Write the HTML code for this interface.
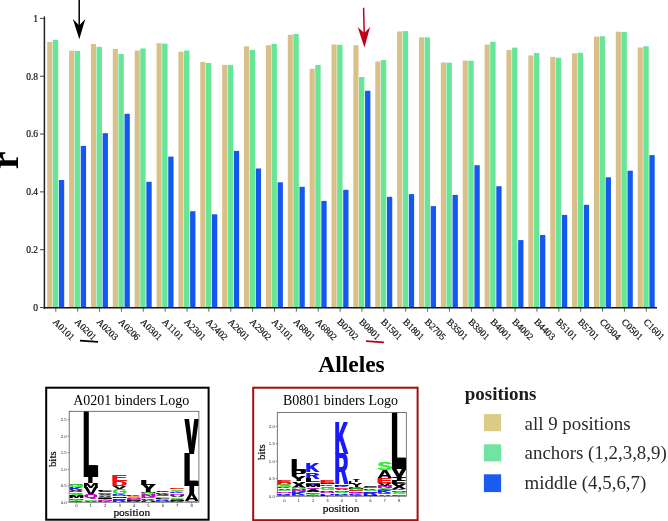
<!DOCTYPE html>
<html><head><meta charset="utf-8"><title>Allele correlation figure</title>
<style>
html,body{margin:0;padding:0;background:#fff;width:668px;height:521px;overflow:hidden}
svg{display:block;font-family:"Liberation Serif","Times New Roman",serif}
</style></head><body>
<svg width="668" height="521" viewBox="0 0 668 521">
<rect x="0" y="0" width="668" height="521" fill="#ffffff"/>
<rect x="47.20" y="41.90" width="5.1" height="265.70" fill="#d8c088"/>
<rect x="52.80" y="39.80" width="5.4" height="267.80" fill="#68e698"/>
<rect x="58.90" y="180.00" width="5.3" height="127.60" fill="#1458f0"/>
<line x1="55.80" y1="308" x2="55.80" y2="311.7" stroke="#555" stroke-width="0.9"/>
<text x="52.50" y="322.60" transform="rotate(45 52.50 322.60)" font-size="9.5" fill="#111" stroke="#111" stroke-width="0.22">A0101</text>
<rect x="69.07" y="50.60" width="5.1" height="257.00" fill="#d8c088"/>
<rect x="74.67" y="50.90" width="5.4" height="256.70" fill="#68e698"/>
<rect x="80.77" y="145.90" width="5.3" height="161.70" fill="#1458f0"/>
<line x1="77.67" y1="308" x2="77.67" y2="311.7" stroke="#555" stroke-width="0.9"/>
<text x="74.37" y="322.60" transform="rotate(45 74.37 322.60)" font-size="9.5" fill="#111" stroke="#111" stroke-width="0.22">A0201</text>
<rect x="90.94" y="44.00" width="5.1" height="263.60" fill="#d8c088"/>
<rect x="96.54" y="46.80" width="5.4" height="260.80" fill="#68e698"/>
<rect x="102.64" y="133.20" width="5.3" height="174.40" fill="#1458f0"/>
<line x1="99.54" y1="308" x2="99.54" y2="311.7" stroke="#555" stroke-width="0.9"/>
<text x="96.24" y="322.60" transform="rotate(45 96.24 322.60)" font-size="9.5" fill="#111" stroke="#111" stroke-width="0.22">A0203</text>
<rect x="112.81" y="49.00" width="5.1" height="258.60" fill="#d8c088"/>
<rect x="118.41" y="54.00" width="5.4" height="253.60" fill="#68e698"/>
<rect x="124.51" y="113.80" width="5.3" height="193.80" fill="#1458f0"/>
<line x1="121.41" y1="308" x2="121.41" y2="311.7" stroke="#555" stroke-width="0.9"/>
<text x="118.11" y="322.60" transform="rotate(45 118.11 322.60)" font-size="9.5" fill="#111" stroke="#111" stroke-width="0.22">A0206</text>
<rect x="134.68" y="50.50" width="5.1" height="257.10" fill="#d8c088"/>
<rect x="140.28" y="48.50" width="5.4" height="259.10" fill="#68e698"/>
<rect x="146.38" y="181.80" width="5.3" height="125.80" fill="#1458f0"/>
<line x1="143.28" y1="308" x2="143.28" y2="311.7" stroke="#555" stroke-width="0.9"/>
<text x="139.98" y="322.60" transform="rotate(45 139.98 322.60)" font-size="9.5" fill="#111" stroke="#111" stroke-width="0.22">A0301</text>
<rect x="156.55" y="43.20" width="5.1" height="264.40" fill="#d8c088"/>
<rect x="162.15" y="43.70" width="5.4" height="263.90" fill="#68e698"/>
<rect x="168.25" y="156.60" width="5.3" height="151.00" fill="#1458f0"/>
<line x1="165.15" y1="308" x2="165.15" y2="311.7" stroke="#555" stroke-width="0.9"/>
<text x="161.85" y="322.60" transform="rotate(45 161.85 322.60)" font-size="9.5" fill="#111" stroke="#111" stroke-width="0.22">A1101</text>
<rect x="178.42" y="51.70" width="5.1" height="255.90" fill="#d8c088"/>
<rect x="184.02" y="50.50" width="5.4" height="257.10" fill="#68e698"/>
<rect x="190.12" y="211.20" width="5.3" height="96.40" fill="#1458f0"/>
<line x1="187.02" y1="308" x2="187.02" y2="311.7" stroke="#555" stroke-width="0.9"/>
<text x="183.72" y="322.60" transform="rotate(45 183.72 322.60)" font-size="9.5" fill="#111" stroke="#111" stroke-width="0.22">A2301</text>
<rect x="200.29" y="61.90" width="5.1" height="245.70" fill="#d8c088"/>
<rect x="205.89" y="63.00" width="5.4" height="244.60" fill="#68e698"/>
<rect x="211.99" y="214.30" width="5.3" height="93.30" fill="#1458f0"/>
<line x1="208.89" y1="308" x2="208.89" y2="311.7" stroke="#555" stroke-width="0.9"/>
<text x="205.59" y="322.60" transform="rotate(45 205.59 322.60)" font-size="9.5" fill="#111" stroke="#111" stroke-width="0.22">A2402</text>
<rect x="222.16" y="64.90" width="5.1" height="242.70" fill="#d8c088"/>
<rect x="227.76" y="64.90" width="5.4" height="242.70" fill="#68e698"/>
<rect x="233.86" y="150.90" width="5.3" height="156.70" fill="#1458f0"/>
<line x1="230.76" y1="308" x2="230.76" y2="311.7" stroke="#555" stroke-width="0.9"/>
<text x="227.46" y="322.60" transform="rotate(45 227.46 322.60)" font-size="9.5" fill="#111" stroke="#111" stroke-width="0.22">A2601</text>
<rect x="244.03" y="46.30" width="5.1" height="261.30" fill="#d8c088"/>
<rect x="249.63" y="49.90" width="5.4" height="257.70" fill="#68e698"/>
<rect x="255.73" y="168.50" width="5.3" height="139.10" fill="#1458f0"/>
<line x1="252.63" y1="308" x2="252.63" y2="311.7" stroke="#555" stroke-width="0.9"/>
<text x="249.33" y="322.60" transform="rotate(45 249.33 322.60)" font-size="9.5" fill="#111" stroke="#111" stroke-width="0.22">A2902</text>
<rect x="265.90" y="45.20" width="5.1" height="262.40" fill="#d8c088"/>
<rect x="271.50" y="43.90" width="5.4" height="263.70" fill="#68e698"/>
<rect x="277.60" y="182.30" width="5.3" height="125.30" fill="#1458f0"/>
<line x1="274.50" y1="308" x2="274.50" y2="311.7" stroke="#555" stroke-width="0.9"/>
<text x="271.20" y="322.60" transform="rotate(45 271.20 322.60)" font-size="9.5" fill="#111" stroke="#111" stroke-width="0.22">A3101</text>
<rect x="287.77" y="34.80" width="5.1" height="272.80" fill="#d8c088"/>
<rect x="293.37" y="34.00" width="5.4" height="273.60" fill="#68e698"/>
<rect x="299.47" y="186.80" width="5.3" height="120.80" fill="#1458f0"/>
<line x1="296.37" y1="308" x2="296.37" y2="311.7" stroke="#555" stroke-width="0.9"/>
<text x="293.07" y="322.60" transform="rotate(45 293.07 322.60)" font-size="9.5" fill="#111" stroke="#111" stroke-width="0.22">A6801</text>
<rect x="309.64" y="68.80" width="5.1" height="238.80" fill="#d8c088"/>
<rect x="315.24" y="65.00" width="5.4" height="242.60" fill="#68e698"/>
<rect x="321.34" y="200.90" width="5.3" height="106.70" fill="#1458f0"/>
<line x1="318.24" y1="308" x2="318.24" y2="311.7" stroke="#555" stroke-width="0.9"/>
<text x="314.94" y="322.60" transform="rotate(45 314.94 322.60)" font-size="9.5" fill="#111" stroke="#111" stroke-width="0.22">A6802</text>
<rect x="331.51" y="44.50" width="5.1" height="263.10" fill="#d8c088"/>
<rect x="337.11" y="44.80" width="5.4" height="262.80" fill="#68e698"/>
<rect x="343.21" y="189.80" width="5.3" height="117.80" fill="#1458f0"/>
<line x1="340.11" y1="308" x2="340.11" y2="311.7" stroke="#555" stroke-width="0.9"/>
<text x="336.81" y="322.60" transform="rotate(45 336.81 322.60)" font-size="9.5" fill="#111" stroke="#111" stroke-width="0.22">B0702</text>
<rect x="353.38" y="45.20" width="5.1" height="262.40" fill="#d8c088"/>
<rect x="358.98" y="77.00" width="5.4" height="230.60" fill="#68e698"/>
<rect x="365.08" y="90.80" width="5.3" height="216.80" fill="#1458f0"/>
<line x1="361.98" y1="308" x2="361.98" y2="311.7" stroke="#555" stroke-width="0.9"/>
<text x="358.68" y="322.60" transform="rotate(45 358.68 322.60)" font-size="9.5" fill="#111" stroke="#111" stroke-width="0.22">B0801</text>
<rect x="375.25" y="61.40" width="5.1" height="246.20" fill="#d8c088"/>
<rect x="380.85" y="60.00" width="5.4" height="247.60" fill="#68e698"/>
<rect x="386.95" y="196.80" width="5.3" height="110.80" fill="#1458f0"/>
<line x1="383.85" y1="308" x2="383.85" y2="311.7" stroke="#555" stroke-width="0.9"/>
<text x="380.55" y="322.60" transform="rotate(45 380.55 322.60)" font-size="9.5" fill="#111" stroke="#111" stroke-width="0.22">B1501</text>
<rect x="397.12" y="31.50" width="5.1" height="276.10" fill="#d8c088"/>
<rect x="402.72" y="31.10" width="5.4" height="276.50" fill="#68e698"/>
<rect x="408.82" y="194.10" width="5.3" height="113.50" fill="#1458f0"/>
<line x1="405.72" y1="308" x2="405.72" y2="311.7" stroke="#555" stroke-width="0.9"/>
<text x="402.42" y="322.60" transform="rotate(45 402.42 322.60)" font-size="9.5" fill="#111" stroke="#111" stroke-width="0.22">B1801</text>
<rect x="418.99" y="37.40" width="5.1" height="270.20" fill="#d8c088"/>
<rect x="424.59" y="37.40" width="5.4" height="270.20" fill="#68e698"/>
<rect x="430.69" y="206.10" width="5.3" height="101.50" fill="#1458f0"/>
<line x1="427.59" y1="308" x2="427.59" y2="311.7" stroke="#555" stroke-width="0.9"/>
<text x="424.29" y="322.60" transform="rotate(45 424.29 322.60)" font-size="9.5" fill="#111" stroke="#111" stroke-width="0.22">B2705</text>
<rect x="440.86" y="62.50" width="5.1" height="245.10" fill="#d8c088"/>
<rect x="446.46" y="62.70" width="5.4" height="244.90" fill="#68e698"/>
<rect x="452.56" y="194.90" width="5.3" height="112.70" fill="#1458f0"/>
<line x1="449.46" y1="308" x2="449.46" y2="311.7" stroke="#555" stroke-width="0.9"/>
<text x="446.16" y="322.60" transform="rotate(45 446.16 322.60)" font-size="9.5" fill="#111" stroke="#111" stroke-width="0.22">B3501</text>
<rect x="462.73" y="60.60" width="5.1" height="247.00" fill="#d8c088"/>
<rect x="468.33" y="60.80" width="5.4" height="246.80" fill="#68e698"/>
<rect x="474.43" y="165.20" width="5.3" height="142.40" fill="#1458f0"/>
<line x1="471.33" y1="308" x2="471.33" y2="311.7" stroke="#555" stroke-width="0.9"/>
<text x="468.03" y="322.60" transform="rotate(45 468.03 322.60)" font-size="9.5" fill="#111" stroke="#111" stroke-width="0.22">B3901</text>
<rect x="484.60" y="44.50" width="5.1" height="263.10" fill="#d8c088"/>
<rect x="490.20" y="41.80" width="5.4" height="265.80" fill="#68e698"/>
<rect x="496.30" y="186.20" width="5.3" height="121.40" fill="#1458f0"/>
<line x1="493.20" y1="308" x2="493.20" y2="311.7" stroke="#555" stroke-width="0.9"/>
<text x="489.90" y="322.60" transform="rotate(45 489.90 322.60)" font-size="9.5" fill="#111" stroke="#111" stroke-width="0.22">B4001</text>
<rect x="506.47" y="49.90" width="5.1" height="257.70" fill="#d8c088"/>
<rect x="512.07" y="47.60" width="5.4" height="260.00" fill="#68e698"/>
<rect x="518.17" y="240.10" width="5.3" height="67.50" fill="#1458f0"/>
<line x1="515.07" y1="308" x2="515.07" y2="311.7" stroke="#555" stroke-width="0.9"/>
<text x="511.77" y="322.60" transform="rotate(45 511.77 322.60)" font-size="9.5" fill="#111" stroke="#111" stroke-width="0.22">B4002</text>
<rect x="528.34" y="55.50" width="5.1" height="252.10" fill="#d8c088"/>
<rect x="533.94" y="53.00" width="5.4" height="254.60" fill="#68e698"/>
<rect x="540.04" y="235.00" width="5.3" height="72.60" fill="#1458f0"/>
<line x1="536.94" y1="308" x2="536.94" y2="311.7" stroke="#555" stroke-width="0.9"/>
<text x="533.64" y="322.60" transform="rotate(45 533.64 322.60)" font-size="9.5" fill="#111" stroke="#111" stroke-width="0.22">B4403</text>
<rect x="550.21" y="56.90" width="5.1" height="250.70" fill="#d8c088"/>
<rect x="555.81" y="57.70" width="5.4" height="249.90" fill="#68e698"/>
<rect x="561.91" y="214.90" width="5.3" height="92.70" fill="#1458f0"/>
<line x1="558.81" y1="308" x2="558.81" y2="311.7" stroke="#555" stroke-width="0.9"/>
<text x="555.51" y="322.60" transform="rotate(45 555.51 322.60)" font-size="9.5" fill="#111" stroke="#111" stroke-width="0.22">B5101</text>
<rect x="572.08" y="53.30" width="5.1" height="254.30" fill="#d8c088"/>
<rect x="577.68" y="52.80" width="5.4" height="254.80" fill="#68e698"/>
<rect x="583.78" y="204.80" width="5.3" height="102.80" fill="#1458f0"/>
<line x1="580.68" y1="308" x2="580.68" y2="311.7" stroke="#555" stroke-width="0.9"/>
<text x="577.38" y="322.60" transform="rotate(45 577.38 322.60)" font-size="9.5" fill="#111" stroke="#111" stroke-width="0.22">B5701</text>
<rect x="593.95" y="36.60" width="5.1" height="271.00" fill="#d8c088"/>
<rect x="599.55" y="36.20" width="5.4" height="271.40" fill="#68e698"/>
<rect x="605.65" y="177.30" width="5.3" height="130.30" fill="#1458f0"/>
<line x1="602.55" y1="308" x2="602.55" y2="311.7" stroke="#555" stroke-width="0.9"/>
<text x="599.25" y="322.60" transform="rotate(45 599.25 322.60)" font-size="9.5" fill="#111" stroke="#111" stroke-width="0.22">C0304</text>
<rect x="615.82" y="31.70" width="5.1" height="275.90" fill="#d8c088"/>
<rect x="621.42" y="32.00" width="5.4" height="275.60" fill="#68e698"/>
<rect x="627.52" y="170.70" width="5.3" height="136.90" fill="#1458f0"/>
<line x1="624.42" y1="308" x2="624.42" y2="311.7" stroke="#555" stroke-width="0.9"/>
<text x="621.12" y="322.60" transform="rotate(45 621.12 322.60)" font-size="9.5" fill="#111" stroke="#111" stroke-width="0.22">C0501</text>
<rect x="637.69" y="47.50" width="5.1" height="260.10" fill="#d8c088"/>
<rect x="643.29" y="46.20" width="5.4" height="261.40" fill="#68e698"/>
<rect x="649.39" y="155.10" width="5.3" height="152.50" fill="#1458f0"/>
<line x1="646.29" y1="308" x2="646.29" y2="311.7" stroke="#555" stroke-width="0.9"/>
<text x="642.99" y="322.60" transform="rotate(45 642.99 322.60)" font-size="9.5" fill="#111" stroke="#111" stroke-width="0.22">C1601</text>
<line x1="44.4" y1="16.9" x2="44.4" y2="308.4" stroke="#222" stroke-width="1.5" stroke-linecap="round"/>
<line x1="43.7" y1="307.8" x2="657" y2="307.8" stroke="#151515" stroke-width="1.6"/>
<line x1="40" y1="307.50" x2="44.4" y2="307.50" stroke="#444" stroke-width="1"/>
<text x="38" y="310.80" text-anchor="end" font-size="9.5" fill="#111" stroke="#111" stroke-width="0.2">0</text>
<line x1="40" y1="249.68" x2="44.4" y2="249.68" stroke="#444" stroke-width="1"/>
<text x="38" y="252.98" text-anchor="end" font-size="9.5" fill="#111" stroke="#111" stroke-width="0.2">0.2</text>
<line x1="40" y1="191.86" x2="44.4" y2="191.86" stroke="#444" stroke-width="1"/>
<text x="38" y="195.16" text-anchor="end" font-size="9.5" fill="#111" stroke="#111" stroke-width="0.2">0.4</text>
<line x1="40" y1="134.04" x2="44.4" y2="134.04" stroke="#444" stroke-width="1"/>
<text x="38" y="137.34" text-anchor="end" font-size="9.5" fill="#111" stroke="#111" stroke-width="0.2">0.6</text>
<line x1="40" y1="76.22" x2="44.4" y2="76.22" stroke="#444" stroke-width="1"/>
<text x="38" y="79.52" text-anchor="end" font-size="9.5" fill="#111" stroke="#111" stroke-width="0.2">0.8</text>
<line x1="40" y1="18.40" x2="44.4" y2="18.40" stroke="#444" stroke-width="1"/>
<text x="38" y="21.70" text-anchor="end" font-size="9.5" fill="#111" stroke="#111" stroke-width="0.2">1</text>
<text x="0" y="0" transform="translate(18.2 160.4) rotate(-90)" text-anchor="middle" font-size="40" font-weight="bold" fill="#000">r</text>
<text x="351.5" y="371.5" text-anchor="middle" font-size="23.5" font-weight="bold" fill="#000">Alleles</text>
<line x1="79.2" y1="0" x2="79.2" y2="27" stroke="#000" stroke-width="1.5"/>
<polygon points="72.9,19 79.3,39.3 85.3,19 79.2,25.5" fill="#000"/>
<line x1="363.6" y1="7.7" x2="364.2" y2="34" stroke="#c0001a" stroke-width="1.5"/>
<polygon points="357.7,27 364.4,47.5 370.1,27 364.2,33" fill="#c0001a"/>
<line x1="80" y1="340.7" x2="98" y2="341.8" stroke="#000" stroke-width="1.7"/>
<line x1="366" y1="341.1" x2="383.9" y2="342.3" stroke="#b8001a" stroke-width="1.7"/>
<rect x="46.2" y="387.7" width="162.4" height="132" fill="none" stroke="#000" stroke-width="2"/>
<rect x="253.2" y="387.7" width="164.4" height="132.5" fill="none" stroke="#a01010" stroke-width="2"/>
<text x="131.2" y="404.5" text-anchor="middle" font-size="14" fill="#000">A0201 binders Logo</text>
<text x="340.5" y="404.7" text-anchor="middle" font-size="14" fill="#000">B0801 binders Logo</text>
<clipPath id="c1"><rect x="69.2" y="411.3" width="129.70" height="90.90"/></clipPath><g clip-path="url(#c1)" font-family="Liberation Sans, sans-serif" font-weight="bold" font-size="100"><text transform="matrix(0.1975 0 0 0.0196 69.50 484.87)" x="-4.10" y="0" fill="#000000">C</text><text transform="matrix(0.1975 0 0 0.0196 70.40 484.87)" x="-4.10" y="0" fill="#000000">C</text><text transform="matrix(0.1913 0 0 0.0326 69.50 487.16)" x="-4.10" y="0" fill="#33dd33">G</text><text transform="matrix(0.1913 0 0 0.0326 70.40 487.16)" x="-4.10" y="0" fill="#33dd33">G</text><text transform="matrix(0.1999 0 0 0.0336 69.50 489.50)" x="-6.69" y="0" fill="#1a1aff">K</text><text transform="matrix(0.1999 0 0 0.0336 70.40 489.50)" x="-6.69" y="0" fill="#1a1aff">K</text><text transform="matrix(0.1976 0 0 0.0168 69.50 490.66)" x="-0.68" y="0" fill="#000000">V</text><text transform="matrix(0.1976 0 0 0.0168 70.40 490.66)" x="-0.68" y="0" fill="#000000">V</text><text transform="matrix(0.2034 0 0 0.0252 69.50 492.39)" x="-6.69" y="0" fill="#1a1aff">R</text><text transform="matrix(0.2034 0 0 0.0252 70.40 492.39)" x="-6.69" y="0" fill="#1a1aff">R</text><text transform="matrix(0.1924 0 0 0.0168 69.50 493.54)" x="-2.49" y="0" fill="#000000">A</text><text transform="matrix(0.1924 0 0 0.0168 70.40 493.54)" x="-2.49" y="0" fill="#000000">A</text><text transform="matrix(0.2155 0 0 0.0326 69.50 495.82)" x="-2.88" y="0" fill="#33dd33">S</text><text transform="matrix(0.2155 0 0 0.0326 70.40 495.82)" x="-2.88" y="0" fill="#33dd33">S</text><text transform="matrix(0.1847 0 0 0.0336 69.50 498.16)" x="-6.69" y="0" fill="#000000">M</text><text transform="matrix(0.1847 0 0 0.0336 70.40 498.16)" x="-6.69" y="0" fill="#000000">M</text><text transform="matrix(0.2196 0 0 0.0252 69.50 499.89)" x="-6.69" y="0" fill="#cc00cc">N</text><text transform="matrix(0.2196 0 0 0.0252 70.40 499.89)" x="-6.69" y="0" fill="#cc00cc">N</text><text transform="matrix(0.2193 0 0 0.0168 69.50 501.05)" x="-1.12" y="0" fill="#33dd33">T</text><text transform="matrix(0.2193 0 0 0.0168 70.40 501.05)" x="-1.12" y="0" fill="#33dd33">T</text><text transform="matrix(0.1858 0 0 0.0129 69.50 501.95)" x="-4.10" y="0" fill="#cc00cc">Q</text><text transform="matrix(0.1858 0 0 0.0129 70.40 501.95)" x="-4.10" y="0" fill="#cc00cc">Q</text><text transform="matrix(0.2516 0 0 1.0553 83.61 476.60)" x="-6.69" y="0" fill="#000">L</text><text transform="matrix(0.2516 0 0 1.0553 85.11 476.60)" x="-6.69" y="0" fill="#000">L</text><text transform="matrix(0.2499 0 0 0.1047 88.21 483.20)" x="-6.69" y="0" fill="#000">I</text><text transform="matrix(0.2499 0 0 0.1047 89.01 483.20)" x="-6.69" y="0" fill="#000">I</text><text transform="matrix(0.1904 0 0 0.0756 84.01 488.20)" x="-6.69" y="0" fill="#000">M</text><text transform="matrix(0.1904 0 0 0.0756 84.31 488.20)" x="-6.69" y="0" fill="#000">M</text><text transform="matrix(0.1992 0 0 0.1047 84.01 494.80)" x="-0.68" y="0" fill="#000">V</text><text transform="matrix(0.1992 0 0 0.1047 84.61 494.80)" x="-0.68" y="0" fill="#000">V</text><text transform="matrix(0.1757 0 0 0.0536 84.21 498.14)" x="-4.10" y="0" fill="#cc00cc">Q</text><text transform="matrix(0.1757 0 0 0.0536 85.21 498.14)" x="-4.10" y="0" fill="#cc00cc">Q</text><text transform="matrix(0.1913 0 0 0.0190 83.91 500.63)" x="-4.10" y="0" fill="#33dd33">G</text><text transform="matrix(0.1913 0 0 0.0190 84.81 500.63)" x="-4.10" y="0" fill="#33dd33">G</text><text transform="matrix(0.1924 0 0 0.0226 83.91 502.20)" x="-2.49" y="0" fill="#000000">A</text><text transform="matrix(0.1924 0 0 0.0226 84.81 502.20)" x="-2.49" y="0" fill="#000000">A</text><text transform="matrix(0.2516 0 0 0.0218 98.32 490.80)" x="-6.69" y="0" fill="#000000">L</text><text transform="matrix(0.2516 0 0 0.0218 99.22 490.80)" x="-6.69" y="0" fill="#000000">L</text><text transform="matrix(0.1975 0 0 0.0212 98.32 492.28)" x="-4.10" y="0" fill="#000000">C</text><text transform="matrix(0.1975 0 0 0.0212 99.22 492.28)" x="-4.10" y="0" fill="#000000">C</text><text transform="matrix(0.2105 0 0 0.0174 98.32 493.50)" x="-6.69" y="0" fill="#ee1111">D</text><text transform="matrix(0.2105 0 0 0.0174 99.22 493.50)" x="-6.69" y="0" fill="#ee1111">D</text><text transform="matrix(0.1976 0 0 0.0145 98.32 494.50)" x="-0.68" y="0" fill="#000000">V</text><text transform="matrix(0.1976 0 0 0.0145 99.22 494.50)" x="-0.68" y="0" fill="#000000">V</text><text transform="matrix(0.2155 0 0 0.0212 98.32 495.98)" x="-2.88" y="0" fill="#33dd33">S</text><text transform="matrix(0.2155 0 0 0.0212 99.22 495.98)" x="-2.88" y="0" fill="#33dd33">S</text><text transform="matrix(0.1924 0 0 0.0145 98.32 497.00)" x="-2.49" y="0" fill="#000000">A</text><text transform="matrix(0.1924 0 0 0.0145 99.22 497.00)" x="-2.49" y="0" fill="#000000">A</text><text transform="matrix(0.1858 0 0 0.0112 98.32 497.78)" x="-4.10" y="0" fill="#cc00cc">Q</text><text transform="matrix(0.1858 0 0 0.0112 99.22 497.78)" x="-4.10" y="0" fill="#cc00cc">Q</text><text transform="matrix(0.8963 0 0 0.0145 98.32 499.00)" x="-6.69" y="0" fill="#000000">I</text><text transform="matrix(0.8963 0 0 0.0145 99.22 499.00)" x="-6.69" y="0" fill="#000000">I</text><text transform="matrix(0.2193 0 0 0.0145 98.32 500.00)" x="-1.12" y="0" fill="#33dd33">T</text><text transform="matrix(0.2193 0 0 0.0145 99.22 500.00)" x="-1.12" y="0" fill="#33dd33">T</text><text transform="matrix(0.2196 0 0 0.0174 98.32 501.20)" x="-6.69" y="0" fill="#cc00cc">N</text><text transform="matrix(0.2196 0 0 0.0174 99.22 501.20)" x="-6.69" y="0" fill="#cc00cc">N</text><text transform="matrix(0.1999 0 0 0.0145 98.32 502.20)" x="-6.69" y="0" fill="#1a1aff">K</text><text transform="matrix(0.1999 0 0 0.0145 99.22 502.20)" x="-6.69" y="0" fill="#1a1aff">K</text><text transform="matrix(0.2337 0 0 0.0843 112.43 480.80)" x="-6.69" y="0" fill="#ee1111">E</text><text transform="matrix(0.2337 0 0 0.0843 113.73 480.80)" x="-6.69" y="0" fill="#ee1111">E</text><text transform="matrix(0.2138 0 0 0.0756 112.43 486.00)" x="-6.69" y="0" fill="#ee1111">D</text><text transform="matrix(0.2138 0 0 0.0756 113.73 486.00)" x="-6.69" y="0" fill="#ee1111">D</text><text transform="matrix(0.1976 0 0 0.0366 112.73 488.82)" x="-0.68" y="0" fill="#000000">V</text><text transform="matrix(0.1976 0 0 0.0366 113.63 488.82)" x="-0.68" y="0" fill="#000000">V</text><text transform="matrix(0.1913 0 0 0.0727 112.73 493.89)" x="-4.10" y="0" fill="#33dd33">G</text><text transform="matrix(0.1913 0 0 0.0727 113.63 493.89)" x="-4.10" y="0" fill="#33dd33">G</text><text transform="matrix(0.1999 0 0 0.0200 112.73 495.34)" x="-6.69" y="0" fill="#1a1aff">K</text><text transform="matrix(0.1999 0 0 0.0200 113.63 495.34)" x="-6.69" y="0" fill="#1a1aff">K</text><text transform="matrix(0.2196 0 0 0.0166 112.73 496.48)" x="-6.69" y="0" fill="#cc00cc">N</text><text transform="matrix(0.2196 0 0 0.0166 113.63 496.48)" x="-6.69" y="0" fill="#cc00cc">N</text><text transform="matrix(0.1847 0 0 0.0249 112.73 498.20)" x="-6.69" y="0" fill="#000000">M</text><text transform="matrix(0.1847 0 0 0.0249 113.63 498.20)" x="-6.69" y="0" fill="#000000">M</text><text transform="matrix(0.2155 0 0 0.0242 112.73 499.89)" x="-2.88" y="0" fill="#33dd33">S</text><text transform="matrix(0.2155 0 0 0.0242 113.63 499.89)" x="-2.88" y="0" fill="#33dd33">S</text><text transform="matrix(0.2034 0 0 0.0333 112.73 502.20)" x="-6.69" y="0" fill="#1a1aff">R</text><text transform="matrix(0.2034 0 0 0.0333 113.63 502.20)" x="-6.69" y="0" fill="#1a1aff">R</text><text transform="matrix(0.1999 0 0 0.0145 127.14 496.00)" x="-6.69" y="0" fill="#1a1aff">K</text><text transform="matrix(0.1999 0 0 0.0145 128.04 496.00)" x="-6.69" y="0" fill="#1a1aff">K</text><text transform="matrix(0.1858 0 0 0.0112 127.14 496.78)" x="-4.10" y="0" fill="#ff9933">Q</text><text transform="matrix(0.1858 0 0 0.0112 128.04 496.78)" x="-4.10" y="0" fill="#ff9933">Q</text><text transform="matrix(0.2155 0 0 0.0141 127.14 497.99)" x="-2.88" y="0" fill="#33dd33">S</text><text transform="matrix(0.2155 0 0 0.0141 128.04 497.99)" x="-2.88" y="0" fill="#33dd33">S</text><text transform="matrix(0.2196 0 0 0.0145 127.14 499.00)" x="-6.69" y="0" fill="#cc00cc">N</text><text transform="matrix(0.2196 0 0 0.0145 128.04 499.00)" x="-6.69" y="0" fill="#cc00cc">N</text><text transform="matrix(0.2301 0 0 0.0145 127.14 500.00)" x="-6.69" y="0" fill="#ee1111">E</text><text transform="matrix(0.2301 0 0 0.0145 128.04 500.00)" x="-6.69" y="0" fill="#ee1111">E</text><text transform="matrix(0.1847 0 0 0.0145 127.14 501.00)" x="-6.69" y="0" fill="#000000">M</text><text transform="matrix(0.1847 0 0 0.0145 128.04 501.00)" x="-6.69" y="0" fill="#000000">M</text><text transform="matrix(0.2034 0 0 0.0174 127.14 502.20)" x="-6.69" y="0" fill="#1a1aff">R</text><text transform="matrix(0.2034 0 0 0.0174 128.04 502.20)" x="-6.69" y="0" fill="#1a1aff">R</text><text transform="matrix(0.2516 0 0 0.0683 141.26 485.00)" x="-6.69" y="0" fill="#000">L</text><text transform="matrix(0.2516 0 0 0.0683 142.76 485.00)" x="-6.69" y="0" fill="#000">L</text><text transform="matrix(0.1976 0 0 0.0640 141.26 489.20)" x="-0.68" y="0" fill="#000">V</text><text transform="matrix(0.1976 0 0 0.0640 142.76 489.20)" x="-0.68" y="0" fill="#000">V</text><text transform="matrix(0.2777 0 0 0.0378 145.86 491.60)" x="-6.69" y="0" fill="#000">I</text><text transform="matrix(0.2777 0 0 0.0378 146.66 491.60)" x="-6.69" y="0" fill="#000">I</text><text transform="matrix(0.1847 0 0 0.0119 141.56 492.52)" x="-6.69" y="0" fill="#000000">M</text><text transform="matrix(0.1847 0 0 0.0119 142.46 492.52)" x="-6.69" y="0" fill="#000000">M</text><text transform="matrix(0.1913 0 0 0.0360 141.56 495.03)" x="-4.10" y="0" fill="#33dd33">G</text><text transform="matrix(0.1913 0 0 0.0360 142.46 495.03)" x="-4.10" y="0" fill="#33dd33">G</text><text transform="matrix(0.2196 0 0 0.0296 141.56 497.10)" x="-6.69" y="0" fill="#cc00cc">N</text><text transform="matrix(0.2196 0 0 0.0296 142.46 497.10)" x="-6.69" y="0" fill="#cc00cc">N</text><text transform="matrix(0.2301 0 0 0.0148 141.56 498.12)" x="-6.69" y="0" fill="#ee1111">E</text><text transform="matrix(0.2301 0 0 0.0148 142.46 498.12)" x="-6.69" y="0" fill="#ee1111">E</text><text transform="matrix(0.1999 0 0 0.0222 141.56 499.65)" x="-6.69" y="0" fill="#1a1aff">K</text><text transform="matrix(0.1999 0 0 0.0222 142.46 499.65)" x="-6.69" y="0" fill="#1a1aff">K</text><text transform="matrix(0.1924 0 0 0.0148 141.56 500.67)" x="-2.49" y="0" fill="#000000">A</text><text transform="matrix(0.1924 0 0 0.0148 142.46 500.67)" x="-2.49" y="0" fill="#000000">A</text><text transform="matrix(0.2196 0 0 0.0222 141.56 502.20)" x="-6.69" y="0" fill="#0000aa">H</text><text transform="matrix(0.2196 0 0 0.0222 142.46 502.20)" x="-6.69" y="0" fill="#0000aa">H</text><text transform="matrix(0.1975 0 0 0.0214 155.97 492.39)" x="-4.10" y="0" fill="#000000">C</text><text transform="matrix(0.1975 0 0 0.0214 156.87 492.39)" x="-4.10" y="0" fill="#000000">C</text><text transform="matrix(0.1999 0 0 0.0220 155.97 493.93)" x="-6.69" y="0" fill="#1a1aff">K</text><text transform="matrix(0.1999 0 0 0.0220 156.87 493.93)" x="-6.69" y="0" fill="#1a1aff">K</text><text transform="matrix(0.1976 0 0 0.0147 155.97 494.94)" x="-0.68" y="0" fill="#000000">V</text><text transform="matrix(0.1976 0 0 0.0147 156.87 494.94)" x="-0.68" y="0" fill="#000000">V</text><text transform="matrix(0.1858 0 0 0.0147 155.97 495.96)" x="-4.10" y="0" fill="#cc00cc">Q</text><text transform="matrix(0.1858 0 0 0.0147 156.87 495.96)" x="-4.10" y="0" fill="#cc00cc">Q</text><text transform="matrix(0.2301 0 0 0.0191 155.97 497.56)" x="-6.69" y="0" fill="#ff9933">E</text><text transform="matrix(0.2301 0 0 0.0191 156.87 497.56)" x="-6.69" y="0" fill="#ff9933">E</text><text transform="matrix(0.2516 0 0 0.0147 155.97 498.57)" x="-6.69" y="0" fill="#000000">L</text><text transform="matrix(0.2516 0 0 0.0147 156.87 498.57)" x="-6.69" y="0" fill="#000000">L</text><text transform="matrix(0.2155 0 0 0.0171 155.97 499.76)" x="-2.88" y="0" fill="#33dd33">S</text><text transform="matrix(0.2155 0 0 0.0171 156.87 499.76)" x="-2.88" y="0" fill="#33dd33">S</text><text transform="matrix(0.2034 0 0 0.0176 155.97 500.99)" x="-6.69" y="0" fill="#1a1aff">R</text><text transform="matrix(0.2034 0 0 0.0176 156.87 500.99)" x="-6.69" y="0" fill="#1a1aff">R</text><text transform="matrix(0.2196 0 0 0.0176 155.97 502.20)" x="-6.69" y="0" fill="#cc00cc">N</text><text transform="matrix(0.2196 0 0 0.0176 156.87 502.20)" x="-6.69" y="0" fill="#cc00cc">N</text><text transform="matrix(0.2301 0 0 0.0220 170.38 489.01)" x="-6.69" y="0" fill="#ee1111">E</text><text transform="matrix(0.2301 0 0 0.0220 171.28 489.01)" x="-6.69" y="0" fill="#ee1111">E</text><text transform="matrix(0.2155 0 0 0.0213 170.38 490.50)" x="-2.88" y="0" fill="#33dd33">S</text><text transform="matrix(0.2155 0 0 0.0213 171.28 490.50)" x="-2.88" y="0" fill="#33dd33">S</text><text transform="matrix(0.2193 0 0 0.0176 170.38 491.73)" x="-1.12" y="0" fill="#33dd33">T</text><text transform="matrix(0.2193 0 0 0.0176 171.28 491.73)" x="-1.12" y="0" fill="#33dd33">T</text><text transform="matrix(0.1999 0 0 0.0220 170.38 493.24)" x="-6.69" y="0" fill="#1a1aff">K</text><text transform="matrix(0.1999 0 0 0.0220 171.28 493.24)" x="-6.69" y="0" fill="#1a1aff">K</text><text transform="matrix(0.2196 0 0 0.0220 170.38 494.75)" x="-6.69" y="0" fill="#cc00cc">N</text><text transform="matrix(0.2196 0 0 0.0220 171.28 494.75)" x="-6.69" y="0" fill="#cc00cc">N</text><text transform="matrix(0.2196 0 0 0.0176 170.38 495.96)" x="-6.69" y="0" fill="#1a1aff">H</text><text transform="matrix(0.2196 0 0 0.0176 171.28 495.96)" x="-6.69" y="0" fill="#1a1aff">H</text><text transform="matrix(0.1924 0 0 0.0176 170.38 497.17)" x="-2.49" y="0" fill="#000000">A</text><text transform="matrix(0.1924 0 0 0.0176 171.28 497.17)" x="-2.49" y="0" fill="#000000">A</text><text transform="matrix(0.1913 0 0 0.0213 170.38 498.66)" x="-4.10" y="0" fill="#33dd33">G</text><text transform="matrix(0.1913 0 0 0.0213 171.28 498.66)" x="-4.10" y="0" fill="#33dd33">G</text><text transform="matrix(0.1858 0 0 0.0146 170.38 499.70)" x="-4.10" y="0" fill="#cc00cc">Q</text><text transform="matrix(0.1858 0 0 0.0146 171.28 499.70)" x="-4.10" y="0" fill="#cc00cc">Q</text><text transform="matrix(0.1847 0 0 0.0176 170.38 501.19)" x="-6.69" y="0" fill="#000000">M</text><text transform="matrix(0.1847 0 0 0.0176 171.28 501.19)" x="-6.69" y="0" fill="#000000">M</text><text transform="matrix(0.2034 0 0 0.0146 170.38 502.20)" x="-6.69" y="0" fill="#1a1aff">R</text><text transform="matrix(0.2034 0 0 0.0146 171.28 502.20)" x="-6.69" y="0" fill="#1a1aff">R</text><text transform="matrix(0.1961 0 0 0.5029 184.49 453.80)" x="-0.68" y="0" fill="#000">V</text><text transform="matrix(0.1961 0 0 0.5029 186.09 453.80)" x="-0.68" y="0" fill="#000">V</text><text transform="matrix(0.2496 0 0 0.4738 184.49 486.40)" x="-6.69" y="0" fill="#000">L</text><text transform="matrix(0.2496 0 0 0.4738 186.09 486.40)" x="-6.69" y="0" fill="#000">L</text><text transform="matrix(0.2777 0 0 0.1163 189.29 494.20)" x="-6.69" y="0" fill="#000">I</text><text transform="matrix(0.2777 0 0 0.1163 190.09 494.20)" x="-6.69" y="0" fill="#000">I</text><text transform="matrix(0.1939 0 0 0.1076 184.89 501.40)" x="-2.49" y="0" fill="#000">A</text><text transform="matrix(0.1939 0 0 0.1076 185.49 501.40)" x="-2.49" y="0" fill="#000">A</text><text transform="matrix(0.2155 0 0 0.0127 184.79 502.19)" x="-2.88" y="0" fill="#33dd33">S</text><text transform="matrix(0.2155 0 0 0.0127 185.69 502.19)" x="-2.88" y="0" fill="#33dd33">S</text></g>
<rect x="69.2" y="411.3" width="129.70" height="90.90" fill="none" stroke="#555" stroke-width="0.8"/>
<line x1="67.70" y1="502.20" x2="69.20" y2="502.20" stroke="#333" stroke-width="0.5"/><text x="66.70" y="503.70" text-anchor="end" font-family="Liberation Sans, sans-serif" font-size="4.3" fill="#222">0.0</text><line x1="67.70" y1="485.70" x2="69.20" y2="485.70" stroke="#333" stroke-width="0.5"/><text x="66.70" y="487.20" text-anchor="end" font-family="Liberation Sans, sans-serif" font-size="4.3" fill="#222">0.5</text><line x1="67.70" y1="469.40" x2="69.20" y2="469.40" stroke="#333" stroke-width="0.5"/><text x="66.70" y="470.90" text-anchor="end" font-family="Liberation Sans, sans-serif" font-size="4.3" fill="#222">1.0</text><line x1="67.70" y1="452.60" x2="69.20" y2="452.60" stroke="#333" stroke-width="0.5"/><text x="66.70" y="454.10" text-anchor="end" font-family="Liberation Sans, sans-serif" font-size="4.3" fill="#222">1.5</text><line x1="67.70" y1="436.10" x2="69.20" y2="436.10" stroke="#333" stroke-width="0.5"/><text x="66.70" y="437.60" text-anchor="end" font-family="Liberation Sans, sans-serif" font-size="4.3" fill="#222">2.0</text><line x1="67.70" y1="419.70" x2="69.20" y2="419.70" stroke="#333" stroke-width="0.5"/><text x="66.70" y="421.20" text-anchor="end" font-family="Liberation Sans, sans-serif" font-size="4.3" fill="#222">2.5</text><line x1="76.41" y1="502.20" x2="76.41" y2="503.50" stroke="#333" stroke-width="0.5"/><text x="76.41" y="507.40" text-anchor="middle" font-family="Liberation Sans, sans-serif" font-size="4.3" fill="#222">0</text><line x1="90.82" y1="502.20" x2="90.82" y2="503.50" stroke="#333" stroke-width="0.5"/><text x="90.82" y="507.40" text-anchor="middle" font-family="Liberation Sans, sans-serif" font-size="4.3" fill="#222">1</text><line x1="105.23" y1="502.20" x2="105.23" y2="503.50" stroke="#333" stroke-width="0.5"/><text x="105.23" y="507.40" text-anchor="middle" font-family="Liberation Sans, sans-serif" font-size="4.3" fill="#222">2</text><line x1="119.64" y1="502.20" x2="119.64" y2="503.50" stroke="#333" stroke-width="0.5"/><text x="119.64" y="507.40" text-anchor="middle" font-family="Liberation Sans, sans-serif" font-size="4.3" fill="#222">3</text><line x1="134.05" y1="502.20" x2="134.05" y2="503.50" stroke="#333" stroke-width="0.5"/><text x="134.05" y="507.40" text-anchor="middle" font-family="Liberation Sans, sans-serif" font-size="4.3" fill="#222">4</text><line x1="148.46" y1="502.20" x2="148.46" y2="503.50" stroke="#333" stroke-width="0.5"/><text x="148.46" y="507.40" text-anchor="middle" font-family="Liberation Sans, sans-serif" font-size="4.3" fill="#222">5</text><line x1="162.87" y1="502.20" x2="162.87" y2="503.50" stroke="#333" stroke-width="0.5"/><text x="162.87" y="507.40" text-anchor="middle" font-family="Liberation Sans, sans-serif" font-size="4.3" fill="#222">6</text><line x1="177.28" y1="502.20" x2="177.28" y2="503.50" stroke="#333" stroke-width="0.5"/><text x="177.28" y="507.40" text-anchor="middle" font-family="Liberation Sans, sans-serif" font-size="4.3" fill="#222">7</text><line x1="191.69" y1="502.20" x2="191.69" y2="503.50" stroke="#333" stroke-width="0.5"/><text x="191.69" y="507.40" text-anchor="middle" font-family="Liberation Sans, sans-serif" font-size="4.3" fill="#222">8</text><text x="0" y="0" transform="translate(56.20 459.20) rotate(-90)" text-anchor="middle" font-size="10.9" fill="#000" stroke="#000" stroke-width="0.2">bits</text><text x="113.40" y="515.80" font-size="11.4" fill="#000" stroke="#000" stroke-width="0.2">position</text>
<clipPath id="c2"><rect x="277.3" y="412.6" width="129.00" height="83.60"/></clipPath><g clip-path="url(#c2)" font-family="Liberation Sans, sans-serif" font-weight="bold" font-size="100"><text transform="matrix(0.2287 0 0 0.0387 277.60 482.66)" x="-6.69" y="0" fill="#ee1111">E</text><text transform="matrix(0.2287 0 0 0.0387 278.50 482.66)" x="-6.69" y="0" fill="#ee1111">E</text><text transform="matrix(0.2093 0 0 0.0356 277.60 485.12)" x="-6.69" y="0" fill="#ee1111">D</text><text transform="matrix(0.2093 0 0 0.0356 278.50 485.12)" x="-6.69" y="0" fill="#ee1111">D</text><text transform="matrix(0.2142 0 0 0.0271 277.60 487.01)" x="-2.88" y="0" fill="#33dd33">S</text><text transform="matrix(0.2142 0 0 0.0271 278.50 487.01)" x="-2.88" y="0" fill="#33dd33">S</text><text transform="matrix(0.1987 0 0 0.0201 277.60 488.42)" x="-6.69" y="0" fill="#1a1aff">K</text><text transform="matrix(0.1987 0 0 0.0201 278.50 488.42)" x="-6.69" y="0" fill="#1a1aff">K</text><text transform="matrix(0.1913 0 0 0.0201 277.60 489.81)" x="-2.49" y="0" fill="#000000">A</text><text transform="matrix(0.1913 0 0 0.0201 278.50 489.81)" x="-2.49" y="0" fill="#000000">A</text><text transform="matrix(0.1902 0 0 0.0226 277.60 491.38)" x="-4.10" y="0" fill="#33dd33">G</text><text transform="matrix(0.1902 0 0 0.0226 278.50 491.38)" x="-4.10" y="0" fill="#33dd33">G</text><text transform="matrix(0.2183 0 0 0.0232 277.60 493.00)" x="-6.69" y="0" fill="#cc00cc">N</text><text transform="matrix(0.2183 0 0 0.0232 278.50 493.00)" x="-6.69" y="0" fill="#cc00cc">N</text><text transform="matrix(0.2022 0 0 0.0232 277.60 494.60)" x="-6.69" y="0" fill="#1a1aff">R</text><text transform="matrix(0.2022 0 0 0.0232 278.50 494.60)" x="-6.69" y="0" fill="#1a1aff">R</text><text transform="matrix(0.1847 0 0 0.0179 277.60 495.85)" x="-4.10" y="0" fill="#cc00cc">Q</text><text transform="matrix(0.1847 0 0 0.0179 278.50 495.85)" x="-4.10" y="0" fill="#cc00cc">Q</text><text transform="matrix(0.2501 0 0 0.1628 291.63 470.50)" x="-6.69" y="0" fill="#000">L</text><text transform="matrix(0.2501 0 0 0.1628 293.13 470.50)" x="-6.69" y="0" fill="#000">L</text><text transform="matrix(0.2268 0 0 0.0814 291.63 476.00)" x="-6.69" y="0" fill="#000">P</text><text transform="matrix(0.2268 0 0 0.0814 293.13 476.00)" x="-6.69" y="0" fill="#000">P</text><text transform="matrix(0.2025 0 0 0.0770 291.63 481.20)" x="-1.71" y="0" fill="#000">Y</text><text transform="matrix(0.2025 0 0 0.0770 293.13 481.20)" x="-1.71" y="0" fill="#000">Y</text><text transform="matrix(0.1976 0 0 0.0901 291.63 487.50)" x="-0.88" y="0" fill="#000">X</text><text transform="matrix(0.1976 0 0 0.0901 293.13 487.50)" x="-0.88" y="0" fill="#000">X</text><text transform="matrix(0.1902 0 0 0.0304 291.93 489.72)" x="-4.10" y="0" fill="#33dd33">G</text><text transform="matrix(0.1902 0 0 0.0304 292.83 489.72)" x="-4.10" y="0" fill="#33dd33">G</text><text transform="matrix(0.2183 0 0 0.0313 291.93 491.90)" x="-6.69" y="0" fill="#cc00cc">N</text><text transform="matrix(0.2183 0 0 0.0313 292.83 491.90)" x="-6.69" y="0" fill="#cc00cc">N</text><text transform="matrix(0.2142 0 0 0.0152 291.93 492.96)" x="-2.88" y="0" fill="#33dd33">S</text><text transform="matrix(0.2142 0 0 0.0152 292.83 492.96)" x="-2.88" y="0" fill="#33dd33">S</text><text transform="matrix(0.1987 0 0 0.0281 291.93 494.91)" x="-6.69" y="0" fill="#1a1aff">K</text><text transform="matrix(0.1987 0 0 0.0281 292.83 494.91)" x="-6.69" y="0" fill="#1a1aff">K</text><text transform="matrix(0.2093 0 0 0.0188 291.93 496.20)" x="-6.69" y="0" fill="#ee1111">D</text><text transform="matrix(0.2093 0 0 0.0188 292.83 496.20)" x="-6.69" y="0" fill="#ee1111">D</text><text transform="matrix(0.1878 0 0 0.1294 306.27 472.20)" x="-6.69" y="0" fill="#1a1aff">K</text><text transform="matrix(0.1878 0 0 0.1294 307.57 472.20)" x="-6.69" y="0" fill="#1a1aff">K</text><text transform="matrix(0.1911 0 0 0.0988 306.27 478.90)" x="-6.69" y="0" fill="#1a1aff">R</text><text transform="matrix(0.1911 0 0 0.0988 307.57 478.90)" x="-6.69" y="0" fill="#1a1aff">R</text><text transform="matrix(0.2501 0 0 0.0480 305.97 482.10)" x="-6.69" y="0" fill="#000">L</text><text transform="matrix(0.2501 0 0 0.0480 307.47 482.10)" x="-6.69" y="0" fill="#000">L</text><text transform="matrix(0.2183 0 0 0.0223 306.27 483.83)" x="-6.69" y="0" fill="#cc00cc">N</text><text transform="matrix(0.2183 0 0 0.0223 307.17 483.83)" x="-6.69" y="0" fill="#cc00cc">N</text><text transform="matrix(0.2022 0 0 0.0257 306.27 485.60)" x="-6.69" y="0" fill="#1a1aff">R</text><text transform="matrix(0.2022 0 0 0.0257 307.17 485.60)" x="-6.69" y="0" fill="#1a1aff">R</text><text transform="matrix(0.1835 0 0 0.0257 306.27 487.37)" x="-6.69" y="0" fill="#000000">M</text><text transform="matrix(0.1835 0 0 0.0257 307.17 487.37)" x="-6.69" y="0" fill="#000000">M</text><text transform="matrix(0.1847 0 0 0.0197 306.27 488.74)" x="-4.10" y="0" fill="#cc00cc">Q</text><text transform="matrix(0.1847 0 0 0.0197 307.17 488.74)" x="-4.10" y="0" fill="#cc00cc">Q</text><text transform="matrix(0.2142 0 0 0.0216 306.27 490.64)" x="-2.88" y="0" fill="#33dd33">S</text><text transform="matrix(0.2142 0 0 0.0216 307.17 490.64)" x="-2.88" y="0" fill="#33dd33">S</text><text transform="matrix(0.1913 0 0 0.0257 306.27 492.43)" x="-2.49" y="0" fill="#000000">A</text><text transform="matrix(0.1913 0 0 0.0257 307.17 492.43)" x="-2.49" y="0" fill="#000000">A</text><text transform="matrix(0.2287 0 0 0.0171 306.27 493.61)" x="-6.69" y="0" fill="#ee1111">E</text><text transform="matrix(0.2287 0 0 0.0171 307.17 493.61)" x="-6.69" y="0" fill="#ee1111">E</text><text transform="matrix(0.2179 0 0 0.0205 306.27 495.02)" x="-1.12" y="0" fill="#33dd33">T</text><text transform="matrix(0.2179 0 0 0.0205 307.17 495.02)" x="-1.12" y="0" fill="#33dd33">T</text><text transform="matrix(0.2093 0 0 0.0171 306.27 496.20)" x="-6.69" y="0" fill="#ee1111">D</text><text transform="matrix(0.2093 0 0 0.0171 307.17 496.20)" x="-6.69" y="0" fill="#ee1111">D</text><text transform="matrix(0.2287 0 0 0.0297 320.60 482.94)" x="-6.69" y="0" fill="#ee1111">E</text><text transform="matrix(0.2287 0 0 0.0297 321.50 482.94)" x="-6.69" y="0" fill="#ee1111">E</text><text transform="matrix(0.1835 0 0 0.0222 320.60 484.47)" x="-6.69" y="0" fill="#000000">M</text><text transform="matrix(0.1835 0 0 0.0222 321.50 484.47)" x="-6.69" y="0" fill="#000000">M</text><text transform="matrix(0.1987 0 0 0.0222 320.60 486.00)" x="-6.69" y="0" fill="#1a1aff">K</text><text transform="matrix(0.1987 0 0 0.0222 321.50 486.00)" x="-6.69" y="0" fill="#1a1aff">K</text><text transform="matrix(0.1964 0 0 0.0222 320.60 487.53)" x="-0.68" y="0" fill="#000000">V</text><text transform="matrix(0.1964 0 0 0.0222 321.50 487.53)" x="-0.68" y="0" fill="#000000">V</text><text transform="matrix(0.1902 0 0 0.0360 320.60 490.04)" x="-4.10" y="0" fill="#33dd33">G</text><text transform="matrix(0.1902 0 0 0.0360 321.50 490.04)" x="-4.10" y="0" fill="#33dd33">G</text><text transform="matrix(0.2022 0 0 0.0222 320.60 491.61)" x="-6.69" y="0" fill="#1a1aff">R</text><text transform="matrix(0.2022 0 0 0.0222 321.50 491.61)" x="-6.69" y="0" fill="#1a1aff">R</text><text transform="matrix(0.2183 0 0 0.0222 320.60 493.14)" x="-6.69" y="0" fill="#cc00cc">N</text><text transform="matrix(0.2183 0 0 0.0222 321.50 493.14)" x="-6.69" y="0" fill="#cc00cc">N</text><text transform="matrix(0.2183 0 0 0.0222 320.60 494.67)" x="-6.69" y="0" fill="#1a1aff">H</text><text transform="matrix(0.2183 0 0 0.0222 321.50 494.67)" x="-6.69" y="0" fill="#1a1aff">H</text><text transform="matrix(0.2501 0 0 0.0222 320.60 496.20)" x="-6.69" y="0" fill="#000000">L</text><text transform="matrix(0.2501 0 0 0.0222 321.50 496.20)" x="-6.69" y="0" fill="#000000">L</text><text transform="matrix(0.1847 0 0 0.4535 335.13 453.80)" x="-6.69" y="0" fill="#1a1aff">K</text><text transform="matrix(0.1847 0 0 0.4535 336.53 453.80)" x="-6.69" y="0" fill="#1a1aff">K</text><text transform="matrix(0.1880 0 0 0.4404 335.13 484.30)" x="-6.69" y="0" fill="#1a1aff">R</text><text transform="matrix(0.1880 0 0 0.4404 336.53 484.30)" x="-6.69" y="0" fill="#1a1aff">R</text><text transform="matrix(0.1835 0 0 0.0238 334.93 486.14)" x="-6.69" y="0" fill="#000000">M</text><text transform="matrix(0.1835 0 0 0.0238 335.83 486.14)" x="-6.69" y="0" fill="#000000">M</text><text transform="matrix(0.1987 0 0 0.0191 334.93 487.45)" x="-6.69" y="0" fill="#1a1aff">K</text><text transform="matrix(0.1987 0 0 0.0191 335.83 487.45)" x="-6.69" y="0" fill="#1a1aff">K</text><text transform="matrix(0.2287 0 0 0.0191 334.93 488.76)" x="-6.69" y="0" fill="#ee1111">E</text><text transform="matrix(0.2287 0 0 0.0191 335.83 488.76)" x="-6.69" y="0" fill="#ee1111">E</text><text transform="matrix(0.1913 0 0 0.0191 334.93 490.08)" x="-2.49" y="0" fill="#000000">A</text><text transform="matrix(0.1913 0 0 0.0191 335.83 490.08)" x="-2.49" y="0" fill="#000000">A</text><text transform="matrix(0.2183 0 0 0.0238 334.93 491.72)" x="-6.69" y="0" fill="#cc00cc">N</text><text transform="matrix(0.2183 0 0 0.0238 335.83 491.72)" x="-6.69" y="0" fill="#cc00cc">N</text><text transform="matrix(0.2142 0 0 0.0232 334.93 493.33)" x="-2.88" y="0" fill="#33dd33">S</text><text transform="matrix(0.2142 0 0 0.0232 335.83 493.33)" x="-2.88" y="0" fill="#33dd33">S</text><text transform="matrix(0.2022 0 0 0.0254 334.93 495.11)" x="-6.69" y="0" fill="#1a1aff">R</text><text transform="matrix(0.2022 0 0 0.0254 335.83 495.11)" x="-6.69" y="0" fill="#1a1aff">R</text><text transform="matrix(0.2093 0 0 0.0159 334.93 496.20)" x="-6.69" y="0" fill="#ee1111">D</text><text transform="matrix(0.2093 0 0 0.0159 335.83 496.20)" x="-6.69" y="0" fill="#ee1111">D</text><text transform="matrix(0.0957 0 0 0.0436 352.97 482.00)" x="-1.12" y="0" fill="#000">T</text><text transform="matrix(0.0957 0 0 0.0436 354.17 482.00)" x="-1.12" y="0" fill="#000">T</text><text transform="matrix(0.0974 0 0 0.0349 348.97 484.20)" x="-6.69" y="0" fill="#000">L</text><text transform="matrix(0.0974 0 0 0.0349 349.97 484.20)" x="-6.69" y="0" fill="#000">L</text><text transform="matrix(0.1662 0 0 0.0610 350.97 487.00)" x="-1.71" y="0" fill="#000">Y</text><text transform="matrix(0.1662 0 0 0.0610 351.77 487.00)" x="-1.71" y="0" fill="#000">Y</text><text transform="matrix(0.1987 0 0 0.0150 349.27 488.23)" x="-6.69" y="0" fill="#1a1aff">K</text><text transform="matrix(0.1987 0 0 0.0150 350.17 488.23)" x="-6.69" y="0" fill="#1a1aff">K</text><text transform="matrix(0.8909 0 0 0.0075 349.27 488.74)" x="-6.69" y="0" fill="#000000">I</text><text transform="matrix(0.8909 0 0 0.0075 350.17 488.74)" x="-6.69" y="0" fill="#000000">I</text><text transform="matrix(0.1902 0 0 0.0266 349.27 490.60)" x="-4.10" y="0" fill="#33dd33">G</text><text transform="matrix(0.1902 0 0 0.0266 350.17 490.60)" x="-4.10" y="0" fill="#33dd33">G</text><text transform="matrix(0.2287 0 0 0.0125 349.27 491.49)" x="-6.69" y="0" fill="#ee1111">E</text><text transform="matrix(0.2287 0 0 0.0125 350.17 491.49)" x="-6.69" y="0" fill="#ee1111">E</text><text transform="matrix(0.2022 0 0 0.0150 349.27 492.51)" x="-6.69" y="0" fill="#1a1aff">R</text><text transform="matrix(0.2022 0 0 0.0150 350.17 492.51)" x="-6.69" y="0" fill="#1a1aff">R</text><text transform="matrix(0.2183 0 0 0.0125 349.27 493.37)" x="-6.69" y="0" fill="#cc00cc">N</text><text transform="matrix(0.2183 0 0 0.0125 350.17 493.37)" x="-6.69" y="0" fill="#cc00cc">N</text><text transform="matrix(0.2142 0 0 0.0121 349.27 494.22)" x="-2.88" y="0" fill="#33dd33">S</text><text transform="matrix(0.2142 0 0 0.0121 350.17 494.22)" x="-2.88" y="0" fill="#33dd33">S</text><text transform="matrix(0.1987 0 0 0.0162 349.27 495.34)" x="-6.69" y="0" fill="#1a1aff">K</text><text transform="matrix(0.1987 0 0 0.0162 350.17 495.34)" x="-6.69" y="0" fill="#1a1aff">K</text><text transform="matrix(0.1847 0 0 0.0096 349.27 496.01)" x="-4.10" y="0" fill="#cc00cc">Q</text><text transform="matrix(0.1847 0 0 0.0096 350.17 496.01)" x="-4.10" y="0" fill="#cc00cc">Q</text><text transform="matrix(0.1963 0 0 0.0222 363.60 486.55)" x="-4.10" y="0" fill="#000000">C</text><text transform="matrix(0.1963 0 0 0.0222 364.50 486.55)" x="-4.10" y="0" fill="#000000">C</text><text transform="matrix(0.2287 0 0 0.0228 363.60 488.14)" x="-6.69" y="0" fill="#ee1111">E</text><text transform="matrix(0.2287 0 0 0.0228 364.50 488.14)" x="-6.69" y="0" fill="#ee1111">E</text><text transform="matrix(0.1987 0 0 0.0228 363.60 489.71)" x="-6.69" y="0" fill="#1a1aff">K</text><text transform="matrix(0.1987 0 0 0.0228 364.50 489.71)" x="-6.69" y="0" fill="#1a1aff">K</text><text transform="matrix(0.2142 0 0 0.0222 363.60 491.26)" x="-2.88" y="0" fill="#33dd33">S</text><text transform="matrix(0.2142 0 0 0.0222 364.50 491.26)" x="-2.88" y="0" fill="#33dd33">S</text><text transform="matrix(0.2183 0 0 0.0228 363.60 492.85)" x="-6.69" y="0" fill="#cc00cc">N</text><text transform="matrix(0.2183 0 0 0.0228 364.50 492.85)" x="-6.69" y="0" fill="#cc00cc">N</text><text transform="matrix(0.2022 0 0 0.0259 363.60 494.63)" x="-6.69" y="0" fill="#1a1aff">R</text><text transform="matrix(0.2022 0 0 0.0259 364.50 494.63)" x="-6.69" y="0" fill="#1a1aff">R</text><text transform="matrix(0.1835 0 0 0.0228 363.60 496.20)" x="-6.69" y="0" fill="#000000">M</text><text transform="matrix(0.1835 0 0 0.0228 364.50 496.20)" x="-6.69" y="0" fill="#000000">M</text><text transform="matrix(0.2142 0 0 0.1158 377.63 469.69)" x="-2.88" y="0" fill="#33ee33">S</text><text transform="matrix(0.2142 0 0 0.1158 379.13 469.69)" x="-2.88" y="0" fill="#33ee33">S</text><text transform="matrix(0.2032 0 0 0.1047 377.63 477.50)" x="-2.49" y="0" fill="#000">A</text><text transform="matrix(0.2032 0 0 0.1047 378.33 477.50)" x="-2.49" y="0" fill="#000">A</text><text transform="matrix(0.2287 0 0 0.0698 377.63 482.60)" x="-6.69" y="0" fill="#ee1111">E</text><text transform="matrix(0.2287 0 0 0.0698 379.13 482.60)" x="-6.69" y="0" fill="#ee1111">E</text><text transform="matrix(0.1585 0 0 0.0247 379.63 484.40)" x="-1.12" y="0" fill="#33dd33">T</text><text transform="matrix(0.1585 0 0 0.0247 380.63 484.40)" x="-1.12" y="0" fill="#33dd33">T</text><text transform="matrix(0.1964 0 0 0.0263 377.93 486.31)" x="-0.68" y="0" fill="#000000">V</text><text transform="matrix(0.1964 0 0 0.0263 378.83 486.31)" x="-0.68" y="0" fill="#000000">V</text><text transform="matrix(0.2183 0 0 0.0263 377.93 488.12)" x="-6.69" y="0" fill="#cc00cc">N</text><text transform="matrix(0.2183 0 0 0.0263 378.83 488.12)" x="-6.69" y="0" fill="#cc00cc">N</text><text transform="matrix(0.1835 0 0 0.0210 377.93 489.57)" x="-6.69" y="0" fill="#000000">M</text><text transform="matrix(0.1835 0 0 0.0210 378.83 489.57)" x="-6.69" y="0" fill="#000000">M</text><text transform="matrix(0.1902 0 0 0.0256 377.93 491.35)" x="-4.10" y="0" fill="#33dd33">G</text><text transform="matrix(0.1902 0 0 0.0256 378.83 491.35)" x="-4.10" y="0" fill="#33dd33">G</text><text transform="matrix(0.1987 0 0 0.0263 377.93 493.18)" x="-6.69" y="0" fill="#1a1aff">K</text><text transform="matrix(0.1987 0 0 0.0263 378.83 493.18)" x="-6.69" y="0" fill="#1a1aff">K</text><text transform="matrix(0.1847 0 0 0.0162 377.93 494.31)" x="-4.10" y="0" fill="#cc00cc">Q</text><text transform="matrix(0.1847 0 0 0.0162 378.83 494.31)" x="-4.10" y="0" fill="#cc00cc">Q</text><text transform="matrix(0.1913 0 0 0.0228 377.93 496.20)" x="-2.49" y="0" fill="#000000">A</text><text transform="matrix(0.1913 0 0 0.0228 378.83 496.20)" x="-2.49" y="0" fill="#000000">A</text><text transform="matrix(0.2481 0 0 1.0000 391.97 468.80)" x="-6.69" y="0" fill="#000">L</text><text transform="matrix(0.2481 0 0 1.0000 393.57 468.80)" x="-6.69" y="0" fill="#000">L</text><text transform="matrix(0.1949 0 0 0.1047 391.97 476.60)" x="-0.68" y="0" fill="#000">V</text><text transform="matrix(0.1949 0 0 0.1047 393.57 476.60)" x="-0.68" y="0" fill="#000">V</text><text transform="matrix(0.2179 0 0 0.0625 391.97 481.00)" x="-1.12" y="0" fill="#000">T</text><text transform="matrix(0.2179 0 0 0.0625 393.47 481.00)" x="-1.12" y="0" fill="#000">T</text><text transform="matrix(0.2287 0 0 0.0465 391.97 484.20)" x="-6.69" y="0" fill="#000">E</text><text transform="matrix(0.2287 0 0 0.0465 393.47 484.20)" x="-6.69" y="0" fill="#000">E</text><text transform="matrix(0.1976 0 0 0.0640 391.97 488.60)" x="-0.88" y="0" fill="#000">X</text><text transform="matrix(0.1976 0 0 0.0640 393.47 488.60)" x="-0.88" y="0" fill="#000">X</text><text transform="matrix(0.1987 0 0 0.0244 392.27 490.38)" x="-6.69" y="0" fill="#1a1aff">K</text><text transform="matrix(0.1987 0 0 0.0244 393.17 490.38)" x="-6.69" y="0" fill="#1a1aff">K</text><text transform="matrix(0.2183 0 0 0.0212 392.27 491.83)" x="-6.69" y="0" fill="#cc00cc">N</text><text transform="matrix(0.2183 0 0 0.0212 393.17 491.83)" x="-6.69" y="0" fill="#cc00cc">N</text><text transform="matrix(0.2142 0 0 0.0206 392.27 493.27)" x="-2.88" y="0" fill="#33dd33">S</text><text transform="matrix(0.2142 0 0 0.0206 393.17 493.27)" x="-2.88" y="0" fill="#33dd33">S</text><text transform="matrix(0.1847 0 0 0.0163 392.27 494.42)" x="-4.10" y="0" fill="#ff9933">Q</text><text transform="matrix(0.1847 0 0 0.0163 393.17 494.42)" x="-4.10" y="0" fill="#ff9933">Q</text><text transform="matrix(0.2287 0 0 0.0212 392.27 496.20)" x="-6.69" y="0" fill="#ee1111">E</text><text transform="matrix(0.2287 0 0 0.0212 393.17 496.20)" x="-6.69" y="0" fill="#ee1111">E</text></g>
<rect x="277.3" y="412.6" width="129.00" height="83.60" fill="none" stroke="#555" stroke-width="0.8"/>
<line x1="275.80" y1="496.30" x2="277.30" y2="496.30" stroke="#333" stroke-width="0.5"/><text x="274.80" y="497.80" text-anchor="end" font-family="Liberation Sans, sans-serif" font-size="4.3" fill="#222">0.0</text><line x1="275.80" y1="478.60" x2="277.30" y2="478.60" stroke="#333" stroke-width="0.5"/><text x="274.80" y="480.10" text-anchor="end" font-family="Liberation Sans, sans-serif" font-size="4.3" fill="#222">0.5</text><line x1="275.80" y1="461.30" x2="277.30" y2="461.30" stroke="#333" stroke-width="0.5"/><text x="274.80" y="462.80" text-anchor="end" font-family="Liberation Sans, sans-serif" font-size="4.3" fill="#222">1.0</text><line x1="275.80" y1="443.60" x2="277.30" y2="443.60" stroke="#333" stroke-width="0.5"/><text x="274.80" y="445.10" text-anchor="end" font-family="Liberation Sans, sans-serif" font-size="4.3" fill="#222">1.5</text><line x1="275.80" y1="426.40" x2="277.30" y2="426.40" stroke="#333" stroke-width="0.5"/><text x="274.80" y="427.90" text-anchor="end" font-family="Liberation Sans, sans-serif" font-size="4.3" fill="#222">2.0</text><line x1="284.47" y1="496.20" x2="284.47" y2="497.50" stroke="#333" stroke-width="0.5"/><text x="284.47" y="501.50" text-anchor="middle" font-family="Liberation Sans, sans-serif" font-size="4.3" fill="#222">0</text><line x1="298.80" y1="496.20" x2="298.80" y2="497.50" stroke="#333" stroke-width="0.5"/><text x="298.80" y="501.50" text-anchor="middle" font-family="Liberation Sans, sans-serif" font-size="4.3" fill="#222">1</text><line x1="313.13" y1="496.20" x2="313.13" y2="497.50" stroke="#333" stroke-width="0.5"/><text x="313.13" y="501.50" text-anchor="middle" font-family="Liberation Sans, sans-serif" font-size="4.3" fill="#222">2</text><line x1="327.47" y1="496.20" x2="327.47" y2="497.50" stroke="#333" stroke-width="0.5"/><text x="327.47" y="501.50" text-anchor="middle" font-family="Liberation Sans, sans-serif" font-size="4.3" fill="#222">3</text><line x1="341.80" y1="496.20" x2="341.80" y2="497.50" stroke="#333" stroke-width="0.5"/><text x="341.80" y="501.50" text-anchor="middle" font-family="Liberation Sans, sans-serif" font-size="4.3" fill="#222">4</text><line x1="356.13" y1="496.20" x2="356.13" y2="497.50" stroke="#333" stroke-width="0.5"/><text x="356.13" y="501.50" text-anchor="middle" font-family="Liberation Sans, sans-serif" font-size="4.3" fill="#222">5</text><line x1="370.47" y1="496.20" x2="370.47" y2="497.50" stroke="#333" stroke-width="0.5"/><text x="370.47" y="501.50" text-anchor="middle" font-family="Liberation Sans, sans-serif" font-size="4.3" fill="#222">6</text><line x1="384.80" y1="496.20" x2="384.80" y2="497.50" stroke="#333" stroke-width="0.5"/><text x="384.80" y="501.50" text-anchor="middle" font-family="Liberation Sans, sans-serif" font-size="4.3" fill="#222">7</text><line x1="399.13" y1="496.20" x2="399.13" y2="497.50" stroke="#333" stroke-width="0.5"/><text x="399.13" y="501.50" text-anchor="middle" font-family="Liberation Sans, sans-serif" font-size="4.3" fill="#222">8</text><text x="0" y="0" transform="translate(265.20 452.00) rotate(-90)" text-anchor="middle" font-size="10.9" fill="#000" stroke="#000" stroke-width="0.2">bits</text><text x="322.80" y="512.30" font-size="11.4" fill="#000" stroke="#000" stroke-width="0.2">position</text>
<text x="464.7" y="399.5" font-size="19" font-weight="bold" fill="#1c1c1c">positions</text>
<rect x="483.9" y="414.1" width="17.2" height="17.1" fill="#dacb86"/>
<rect x="483.9" y="444.3" width="17.2" height="17.1" fill="#70e4a0"/>
<rect x="483.9" y="474.3" width="17.2" height="17.8" fill="#1a5cef"/>
<text x="524.6" y="429.5" font-size="18.9" fill="#2a2a2a">all 9 positions</text>
<text x="524.6" y="459.4" font-size="18.9" fill="#2a2a2a">anchors (1,2,3,8,9)</text>
<text x="524.6" y="489.3" font-size="18.9" fill="#2a2a2a">middle (4,5,6,7)</text>
</svg>
</body></html>
